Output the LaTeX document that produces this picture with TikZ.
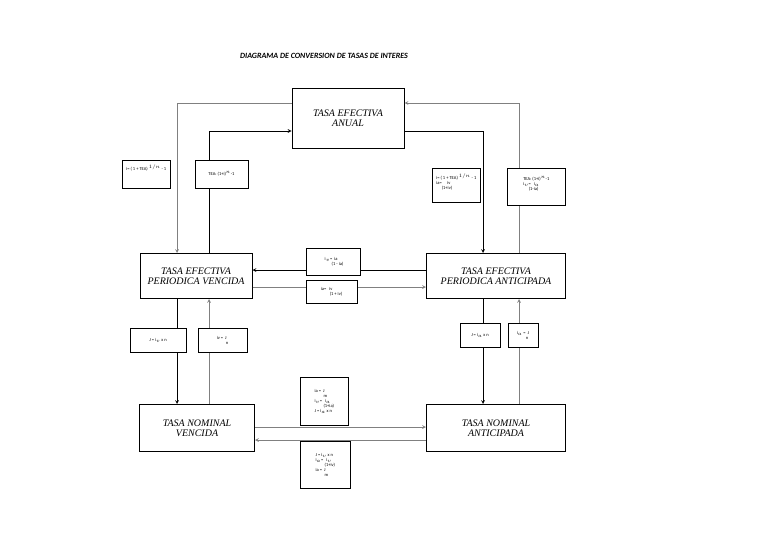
\documentclass[tikz,border=0pt]{standalone}
\usepackage{amsmath}
\usepackage{fontspec}
\setmainfont{Liberation Serif}
\newfontfamily\calib{Carlito}
\usepackage{tikz}
\definecolor{gray}{rgb}{0.5,0.5,0.5}

\begin{document}
\begin{tikzpicture}[
  x=1pt,y=-1pt,
  tasa/.style={draw,line width=1pt,font={\itshape\fontsize{10}{10}\selectfont},align=center,inner sep=0pt},
  formula/.style={draw,fill=white,line width=0.6pt,font={\calib\fontsize{4.5}{5}\selectfont},align=left,inner sep=2pt},
  flow/.style={->,>=stealth,line width=0.7pt},
  back/.style={flow,gray},
  ]
  \useasboundingbox (0,0) rectangle (768,543);
  % Title
  \node[font={\calib\bfseries\itshape\fontsize{8}{8}\selectfont}] (title) at (324,56)
    {DIAGRAMA DE CONVERSION DE TASAS DE INTERES};
  % Main boxes
  \node[tasa,minimum width=112,minimum height=60] (tea) at (348,118) {TASA EFECTIVA\\ANUAL};
  \node[tasa,minimum width=112,minimum height=45] (tepv) at (196,276) {TASA EFECTIVA\\PERIODICA VENCIDA};
  \node[tasa,minimum width=139,minimum height=45] (tepa) at (496,276) {TASA EFECTIVA\\PERIODICA ANTICIPADA};
  \node[tasa,minimum width=115,minimum height=47] (tnv) at (197,428) {TASA NOMINAL\\VENCIDA};
  \node[tasa,minimum width=139,minimum height=47] (tna) at (496,428) {TASA NOMINAL\\ANTICIPADA};
  % Corner coordinates
  \coordinate (c1) at (177,103);
  \coordinate (c2) at (209,131);
  \coordinate (c3) at (483,131);
  \coordinate (c4) at (519,103);
  % Top connectors
  \draw[back] (tea.west |- c1) -- (c1) -- (c1 |- tepv.north);
  \draw[flow] (c2 |- tepv.north) -- (c2) -- (tea.west |- c2);
  \draw[flow] (tea.east |- c3) -- (c3) -- (c3 |- tepa.north);
  \draw[back] (c4 |- tepa.north) -- (c4) -- (tea.east |- c4);
  % Middle connectors
  \draw[flow] (tepa.west |- 0,270) -- (tepv.east |- 0,270);
  \draw[back] (tepv.east |- 0,287) -- (tepa.west |- 0,287);
  \draw[flow] (tepv.south -| c1) -- (tnv.north -| c1);
  \draw[back] (tnv.north -| c2) -- (tepv.south -| c2);
  \draw[flow] (tepa.south -| c3) -- (tna.north -| c3);
  \draw[back] (tna.north -| c4) -- (tepa.south -| c4);
  % Bottom connectors
  \draw[back] (tnv.east |- 0,427) -- (tna.west |- 0,427);
  \draw[back] (tna.west |- 0,440) -- (tnv.east |- 0,440);
  % Formula boxes
  \node[formula,minimum width=48,minimum height=28,anchor=north west,align=left] (f1) at (122,160)
    {i= ( 1 + TEA) $^{1/n}$ - 1\\[8pt]};
  \node[formula,minimum width=53,minimum height=28] (f2) at (221.5,174) {TEA: (1+i)$^{n}$-1};
  \node[formula,minimum width=48,minimum height=34,anchor=north west] (f3) at (432,168)
    {i= ( 1 + TEA) $^{1/n}$ - 1\\ia= \quad iv\\ \quad\ (1+iv)\\[2pt]};
  \node[formula,minimum width=58,minimum height=37,anchor=north west] (f4) at (507,168)
    {TEA: (1+i)$^{n}$-1\\i$_v$= \ \ i$_a$\\ \quad\ (1-ia)\\[2pt]};
  \node[formula,minimum width=54,minimum height=27] (f5) at (333,261.5)
    {\ \ i$_v$= \ ia\\ \qquad (1 - ia)};
  \node[formula,minimum width=51,minimum height=23] (f6) at (331.5,291.5)
    {ia= \ \ iv\\ \qquad (1 + iv)};
  \node[formula,minimum width=56,minimum height=24] (f7) at (158,340) {J = i$_v$ x n};
  \node[formula,minimum width=49,minimum height=24] (f8) at (222.5,340) {iv = \ J\\ \qquad n};
  \node[formula,minimum width=40,minimum height=24] (f9) at (480,335) {J = i$_a$ x n};
  \node[formula,minimum width=30,minimum height=24] (f10) at (523,335) {i$_a$ = \ J\\ \qquad n};
  \node[formula,minimum width=48,minimum height=48,anchor=north west] (f11) at (300,377)
    {ia = \ J\\ \qquad m\\i$_v$= \ \ i$_a$\\ \qquad (1+ia)\\J = i$_a$ x n};
  \node[formula,minimum width=50,minimum height=47,anchor=north west] (f12) at (300,441)
    {J = i$_v$ x n\\i$_a$= \ \ i$_v$\\ \qquad (1+iv)\\ia = \ J\\ \qquad m};
\end{tikzpicture}
\end{document}
